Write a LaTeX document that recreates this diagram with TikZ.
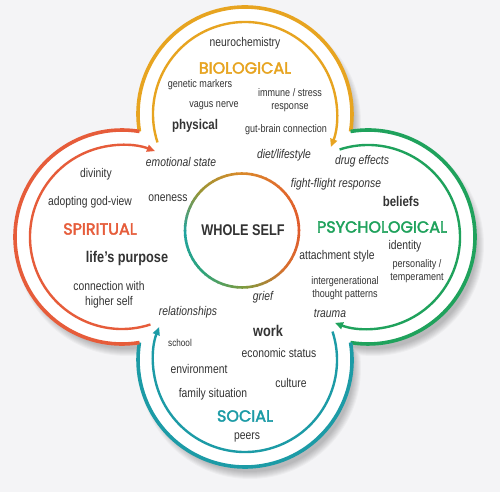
\documentclass[tikz,border=0pt]{standalone}
\usepackage{fontspec}
\setmainfont{Liberation Sans}[FakeStretch=0.82]
\newfontfamily\catfont{Poppins}[FakeBold=2.4]
\usetikzlibrary{arrows.meta}

\begin{document}
\begin{tikzpicture}[x=1pt,y=1pt,
  txt/.style={text=ink,inner sep=0pt,align=center,font=\fontsize{12.6}{15}\selectfont},
  smalltxt/.style={txt,font=\fontsize{11}{12.5}\selectfont},
  tinytxt/.style={txt,font=\fontsize{10}{12}\selectfont},
  slant/.style={txt,font=\fontsize{12.6}{15}\selectfont\itshape},
  keyword/.style={txt,font=\fontsize{14}{16}\selectfont\bfseries},
  bigword/.style={txt,font=\fontsize{15.5}{18}\selectfont\bfseries},
  area/.style={inner sep=0pt,font=\catfont\fontsize{16}{18}\selectfont},
  rim/.style={line width=3.6pt},
  flow/.style={line width=2.4pt,-{Triangle[length=8pt,width=7pt]}}]
\definecolor{ink}{HTML}{333333}
\definecolor{paper}{HTML}{F4F4F6}
\definecolor{bio}{HTML}{E7A420}
\definecolor{psy}{HTML}{1FA25C}
\definecolor{soc}{HTML}{1C9BA6}
\definecolor{spi}{HTML}{E65C3A}
\definecolor{rA}{HTML}{E05A2C}
\definecolor{rB}{HTML}{E06C2C}
\definecolor{rC}{HTML}{D98A2A}
\definecolor{rD}{HTML}{9A9535}
\definecolor{rE}{HTML}{1FA3A0}
\definecolor{rF}{HTML}{2FA37A}
\definecolor{rG}{HTML}{7E9A3E}
\definecolor{rH}{HTML}{D8702E}

\useasboundingbox (0,0) rectangle (500,492);
\fill[paper] (0,0) rectangle (500,492);

% soft shadow under the clover
\foreach \k in {0,...,7}
  \fill[black,opacity=0.03] (250,247) circle[radius=60] \foreach \ang in {90,0,270,180} {(250,247) ++(\ang:123) circle[radius=111-\k]};
\fill[white] (245,255) circle[radius=60] \foreach \ang in {90,0,270,180} {(245,255) ++(\ang:123) circle[radius=107]};

% the four lobes
\foreach \clr/\ang in {bio/90,psy/0,soc/270,spi/180}
{
  \path (245,255) ++(\ang:123) coordinate (\clr);
  \draw[rim,\clr] (\clr) ++({\ang+99.4}:107) arc[start angle=\ang+99.4,end angle=\ang-99.4,radius=107];
  \draw[flow,\clr] (\clr) ++({\ang+108}:92) arc[start angle=\ang+108,end angle=\ang-111,radius=92];
}

% whole self ring
\node[bigword] (self) at (243,262) {WHOLE SELF};
\foreach \q/\ca/\cb in {0/rA/rB,45/rB/rC,90/rC/rD,135/rD/rE,180/rE/rF,225/rF/rG,270/rG/rH,315/rH/rA}
  \foreach \i in {0,...,8} {
    \pgfmathtruncatemacro\p{100-\i*100/9}
    \draw[line width=2.6pt,color=\ca!\p!\cb] (242,261.5) ++({\q+5*\i}:57) arc[start angle=\q+5*\i,end angle=\q+5*\i+5.6,radius=57];
  }

% biological
\node[txt] (neuro) at (245,449) {neurochemistry};
\node[area,text=bio] (biol) at (245,424) {BIOLOGICAL};
\node[smalltxt] (genes) at (200,407) {genetic markers};
\node[smalltxt] (immune) at (290,392) {immune / stress\\response};
\node[smalltxt] (vagus) at (214,386) {vagus nerve};
\node[keyword] (phys) at (195,366) {physical};
\node[smalltxt] (gut) at (286,362) {gut-brain connection};
\node[slant] (diet) at (284,337) {diet/lifestyle};
\node[slant] (emo) at (181,330) {emotional state};

% psychological
\node[slant] (drug) at (362,331) {drug effects};
\node[slant] (fight) at (336,308) {fight-flight response};
\node[keyword] (beliefs) at (401,290) {beliefs};
\node[area,text=psy] (psych) at (382,265) {PSYCHOLOGICAL};
\node[txt] (ident) at (405,246) {identity};
\node[txt] (attach) at (337,236) {attachment style};
\node[smalltxt] (person) at (417,221) {personality /\\temperament};
\node[smalltxt] (intergen) at (345,204) {intergenerational\\thought patterns};
\node[slant] (trauma) at (330,179) {trauma};

% spiritual
\node[txt] (divin) at (96,318) {divinity};
\node[txt] (godview) at (90,290) {adopting god-view};
\node[txt] (one) at (168,294) {oneness};
\node[area,text=spi] (spir) at (100,263) {SPIRITUAL};
\node[bigword] (purpose) at (127,234) {life’s purpose};
\node[txt] (higher) at (109,197) {connection with\\higher self};
\node[slant] (relat) at (188,180) {relationships};
\node[slant] (grief) at (263,195) {grief};

% social
\node[bigword] (work) at (268,161) {work};
\node[tinytxt] (school) at (180,149) {school};
\node[txt] (econ) at (279,139) {economic status};
\node[txt] (envir) at (199,123) {environment};
\node[txt] (cult) at (291,109) {culture};
\node[txt] (family) at (213,98) {family situation};
\node[area,text=soc] (soci) at (245,76) {SOCIAL};
\node[txt] (peers) at (247,55) {peers};
\end{tikzpicture}
\end{document}
